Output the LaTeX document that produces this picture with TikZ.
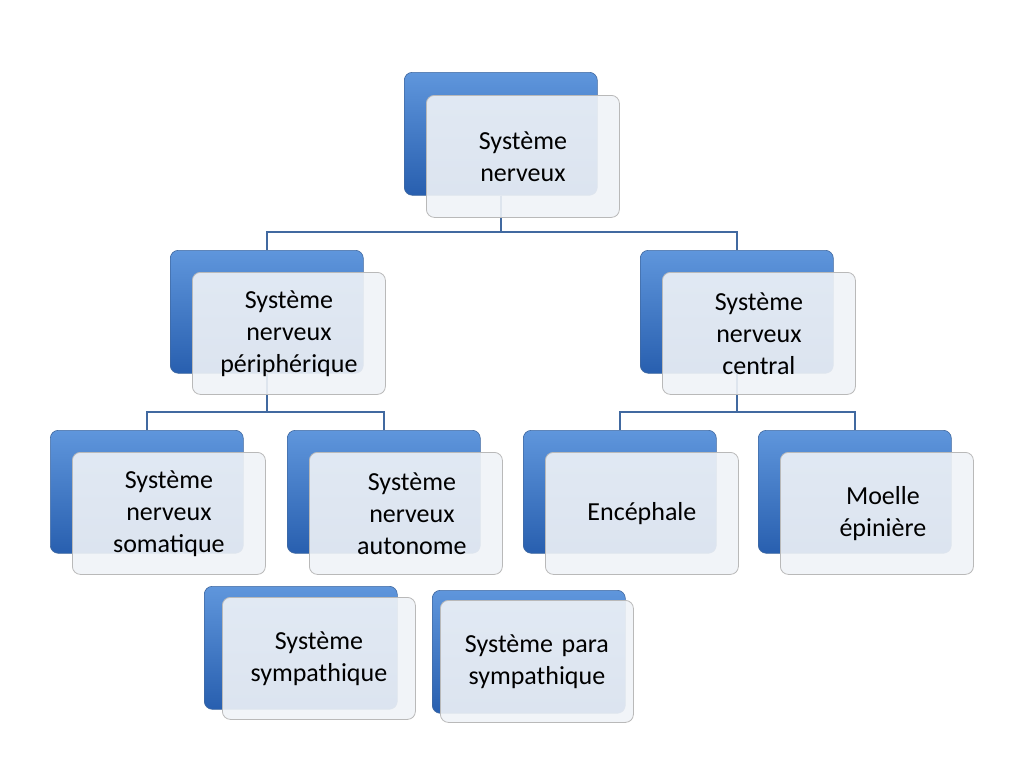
\documentclass[tikz,border=0pt]{standalone}
\usepackage{fontspec}
\setmainfont{Carlito}
\definecolor{btop}{RGB}{95,150,220}
\definecolor{bbot}{RGB}{40,95,175}
\definecolor{lnc}{RGB}{65,105,160}
\definecolor{ffill}{RGB}{240,243,247}
\begin{document}
\begin{tikzpicture}[x=1pt,y=-1pt,
  back/.style={draw=lnc, rounded corners=8pt, minimum width=193pt, minimum height=123pt, line width=0.6pt,
    top color=btop, bottom color=bbot, inner sep=0pt, anchor=north west},
  front/.style={draw=gray!55, rounded corners=8pt, minimum width=193pt, minimum height=122pt, line width=0.8pt,
    fill=ffill, fill opacity=0.9, text opacity=1, anchor=north west, align=center, font=\fontsize{26}{32}\selectfont, text width=180pt},
  conn/.style={draw=lnc, line width=1.8pt}]
\useasboundingbox (0,0) rectangle (1024,768);
% backs
\node[back] (b0) at (404,72) {};
\node[back] (b1) at (170,250) {};
\node[back] (b2) at (640,250) {};
\node[back] (b3) at (50,430) {};
\node[back] (b4) at (287,430) {};
\node[back] (b5) at (523,430) {};
\node[back] (b6) at (758,430) {};
\node[back] (b7) at (204,586) {};
\node[back] (b8) at (432,590) {};
% connectors
\coordinate (j0) at (b0.south |- 0,232);
\coordinate (j1) at (b1.south |- 0,412);
\coordinate (j2) at (b2.south |- 0,412);
\draw[conn] (b0.south) -- (j0) -| (b1.north);
\draw[conn] (j0) -| (b2.north);
\draw[conn] (b1.south) -- (j1) -| (b3.north);
\draw[conn] (j1) -| (b4.north);
\draw[conn] (b2.south) -- (j2) -| (b5.north);
\draw[conn] (j2) -| (b6.north);
% fronts
\node[front] (f0) at (426,95) {Système\\nerveux};
\node[front] (f1) at (192,272) {Système\\nerveux\\périphérique};
\node[front] (f2) at (662,272) {Système\\nerveux\\central};
\node[front] (f3) at (72,452) {Système\\nerveux\\somatique};
\node[front] (f4) at (309,452) {\hspace*{12pt}Système\\\hspace*{12pt}nerveux\\\hspace*{12pt}autonome};
\node[front] (f5) at (545,452) {Encéphale};
\node[front] (f6) at (780,452) {\hspace*{12pt}Moelle\\\hspace*{12pt}épinière};
\node[front] (f7) at (222,597) {Système\\sympathique};
\node[front] (f8) at (440,600) {Système para\\sympathique};
\end{tikzpicture}
\end{document}
